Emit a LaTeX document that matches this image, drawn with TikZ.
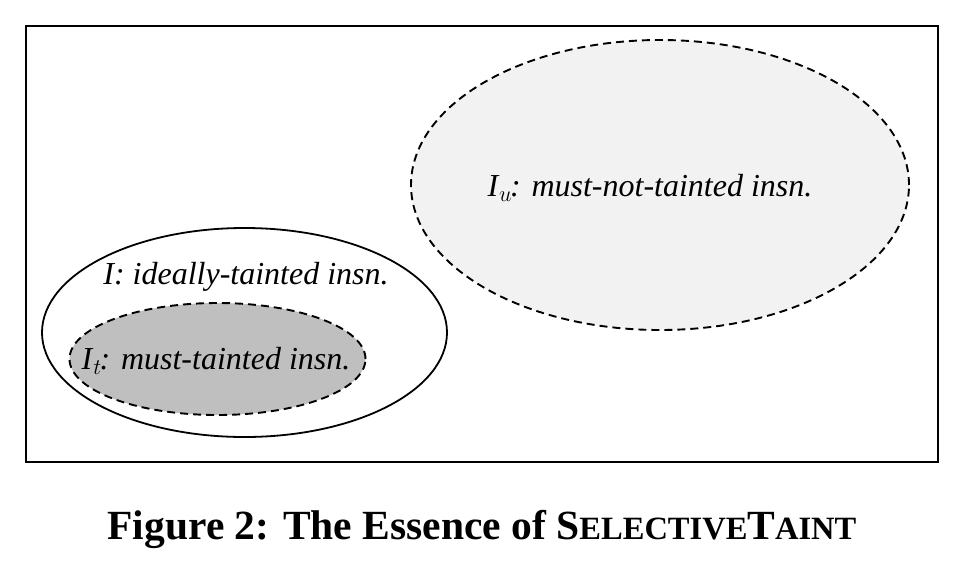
\documentclass[tikz,border=0pt]{standalone}
\usepackage{fix-cm}
\usepackage{fontspec}
\setmainfont{Liberation Serif}
\usetikzlibrary{shapes.geometric}
\definecolor{mustgray}{HTML}{BFBFBF}
\definecolor{notgray}{HTML}{F2F2F2}
\begin{document}
\begin{tikzpicture}[x = 1pt, y = -1pt]
	\useasboundingbox (0, 0) rectangle (968, 568);
	
	% Frame
	\node[minimum width=912pt, minimum height=436pt, rectangle, draw, line width=2.2pt, inner sep=0pt] (frame) at (482, 244) {};
	
	% Must-not-tainted set
	\node[minimum width=498pt, minimum height=290pt, ellipse, draw, dashed, dash pattern=on 8pt off 5pt, line width=1.9pt, fill=notgray, inner sep=0pt] (iu) at (660, 185) {};
	\node[font=\fontsize{32}{32}\selectfont\itshape] (iulabel) at (650, 188) {I\kern1pt$_u$\kern-2pt: must-not-tainted insn.};
	
	% Ideally-tainted set
	\node[minimum width=405pt, minimum height=209pt, ellipse, draw, line width=1.8pt, inner sep=0pt] (i) at (244.5, 332.5) {};
	\node[font=\fontsize{32}{32}\selectfont\itshape] (ilabel) at (246, 277) {I: ideally-tainted insn.};
	
	% Must-tainted set
	\node[minimum width=296pt, minimum height=112pt, ellipse, draw, dashed, dash pattern=on 8pt off 5pt, line width=1.9pt, fill=mustgray, inner sep=0pt] (it) at (217.5, 359) {};
	\node[font=\fontsize{32}{32}\selectfont\itshape] (itlabel) at (216, 361) {I\kern1pt$_t$\kern-2pt: must-tainted insn.};
	
	% Caption
	\node[font=\fontsize{41.5}{41.5}\selectfont\bfseries, anchor=base] (caption) at (482, 539) {Figure 2: The Essence of S{\fontsize{32.5}{32.5}\selectfont ELECTIVE}T{\fontsize{32.5}{32.5}\selectfont AINT}};
\end{tikzpicture}
\end{document}
